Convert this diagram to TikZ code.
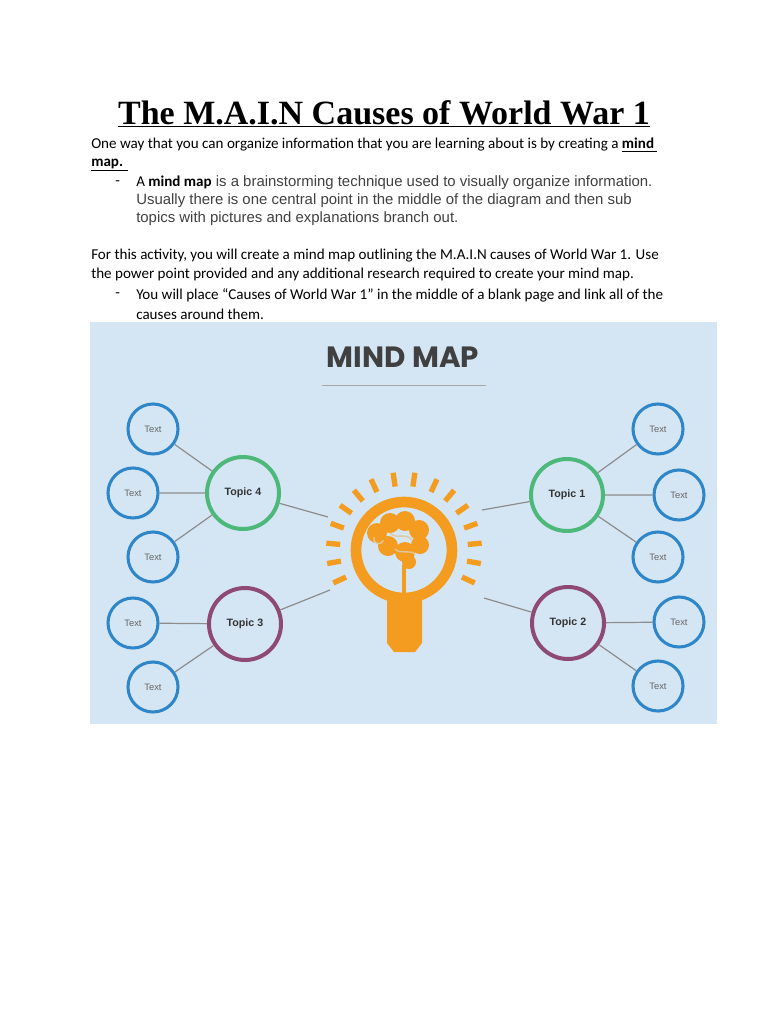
\documentclass[tikz,border=0pt]{standalone}
\usepackage{fontspec}
\usetikzlibrary{calc}
\setmainfont{Carlito}
\newfontfamily\arialf{Liberation Sans}
\newfontfamily\timesf{Liberation Serif}
\newfontfamily\popf{Poppins}
\begin{document}
\begin{tikzpicture}[x=0.75pt,y=-0.75pt,
  txt/.style={anchor=west,inner sep=0,font=\fontsize{11.3}{12}\selectfont},
  arl/.style={anchor=west,inner sep=0,font=\arialf\fontsize{11.2}{12}\selectfont,text=black!75},
  small/.style={circle,draw=cblue,line width=2.3pt,minimum size=37.5pt,inner sep=0,font=\arialf\fontsize{7}{8}\selectfont,text=black!60},
  topic/.style={circle,line width=3pt,minimum size=54pt,inner sep=0,font=\arialf\bfseries\fontsize{8}{9}\selectfont,text=black!80},
  link/.style={draw=black!45,line width=0.9pt}]
\definecolor{cblue}{HTML}{2E86C9}
\definecolor{cgreen}{HTML}{4CB87A}
\definecolor{cpurp}{HTML}{8E4A72}
\definecolor{cpanel}{HTML}{D4E6F4}
\definecolor{corange}{HTML}{F39C1F}
\useasboundingbox (0,0) rectangle (768,1024);
\fill[white] (0,0) rectangle (768,1024);
% title and text
\node[inner sep=0,font=\timesf\bfseries\fontsize{25.5}{27}\selectfont] (title) at (384,114) {\underline{The M.A.I.N Causes of World War 1}};
\node[txt] (l1) at (91,145) {One way that you can organize information that you are learning about is by creating a \textbf{\underline{mind }}};
\node[txt] (l2) at (91,165) {\textbf{\underline{map. }}};
\node[txt] (d1) at (115,183) {-};
\node[arl] (b1) at (136,183) {{\fontspec{Carlito}\fontsize{11.3}{12}\selectfont\color{black}A \textbf{mind map}} is a brainstorming technique used to visually organize information.};
\node[arl] (b2) at (136,201) {Usually there is one central point in the middle of the diagram and then sub};
\node[arl] (b3) at (136,219) {topics with pictures and explanations branch out.};
\node[txt] (p1) at (91,256) {For this activity, you will create a mind map outlining the M.A.I.N causes of World War 1. Use};
\node[txt] (p2) at (91,274) {the power point provided and any additional research required to create your mind map.};
\node[txt] (d2) at (115,295) {-};
\node[txt] (p3) at (136,295) {You will place “Causes of World War 1” in the middle of a blank page and link all of the};
\node[txt] (p4) at (136,314) {causes around them.};
% panel
\fill[cpanel] (90,322) rectangle (717,724);
\node[inner sep=0,font=\popf\bfseries\fontsize{22}{24}\selectfont,text=black!75] (mm) at (403,357) {MIND MAP};
\draw[black!35,line width=0.6pt] (322,385) -- (486,385);
% nodes
\node[small] (t1) at (153,429) {Text};
\node[small] (t2) at (133,493) {Text};
\node[small] (t3) at (153,557) {Text};
\node[small] (t4) at (133,623) {Text};
\node[small] (t5) at (153,687) {Text};
\node[small] (r1) at (658,429) {Text};
\node[small] (r2) at (679,495) {Text};
\node[small] (r3) at (658,557) {Text};
\node[small] (r4) at (679,622) {Text};
\node[small] (r5) at (658,686) {Text};
\node[topic,draw=cgreen] (T4) at (243,493) {Topic 4};
\node[topic,draw=cgreen] (T1) at (567,495) {Topic 1};
\node[topic,draw=cpurp] (T3) at (245,624) {Topic 3};
\node[topic,draw=cpurp] (T2) at (568,623) {Topic 2};
\coordinate (c4) at (328,517);
\coordinate (c3) at (330,590);
\coordinate (c1) at (482,510);
\coordinate (c2) at (484,598);
\draw[link] (T4)--(t1) (T4)--(t2) (T4)--(t3) (T4)--(c4);
\draw[link] (T3)--(t4) (T3)--(t5) (T3)--(c3);
\draw[link] (T1)--(r1) (T1)--(r2) (T1)--(r3) (T1)--(c1);
\draw[link] (T2)--(r4) (T2)--(r5) (T2)--(c2);
% bulb
\coordinate (bc) at (404,550);
\foreach \a in {-25,-10,5,20,35,50,65,82,98,115,130,145,160,175,190,205}
  \draw[corange,line width=4pt] ($(bc)+(-\a:64)$) -- ($(bc)+(-\a:78)$);
\fill[corange] (387,598) -- (422,598) -- (422,643) -- (415,652) -- (394,652) -- (387,643) -- cycle;
\draw[corange,line width=8pt,fill=cpanel] (bc) circle (48);
\draw[corange,line width=3pt] (404,565) -- (404,600);
\fill[corange] (377,533) circle (10) (390,523) circle (10) (405,521) circle (10) (419,530) circle (10) (420,545) circle (9) (405,552) circle (10) (388,546) circle (10) (409,562) circle (7);
\draw[cpanel!60!corange,line width=1pt] (374,537) arc (200:20:5) (390,533) .. controls (396,540) and (406,532) .. (412,540) (395,549) .. controls (401,555) and (409,549) .. (415,554);
\end{tikzpicture}
\end{document}
